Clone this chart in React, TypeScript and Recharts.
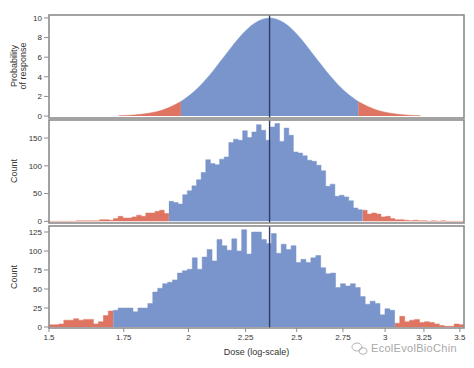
import React from "react";
import { ComposedChart, Area, XAxis, YAxis, ReferenceLine } from "recharts";

const BLUE = "#7a95cb";
const RED = "#df7462";
const LINE = "#2f3d68";
const FRAME = "#8c8c8c";
const TEXT = "#333333";
const FONT = "'Liberation Sans', Arial, sans-serif";

// x axis (dose, log scale)
const DOSE_DOMAIN: [number, number] = [1.5, 3.53];
const DOSE_TICKS = [1.5, 1.75, 2, 2.25, 2.5, 2.75, 3, 3.25, 3.5];
const MEAN_DOSE = 2.364;

// top panel: probability of response curve
const CURVE_DOSE = [
  1.731, 1.786, 1.843, 1.901, 1.969, 2.023, 2.087, 2.153, 2.221, 2.292, 2.364,
  2.439, 2.516, 2.595, 2.678, 2.762, 2.838, 2.94, 3.033, 3.129, 3.228,
];
const CURVE_PROB = [
  0.04, 0.11, 0.29, 0.66, 1.48, 2.49, 4.11, 6.07, 8.01, 9.46, 10.0,
  9.46, 8.01, 6.07, 4.11, 2.49, 1.48, 0.66, 0.29, 0.11, 0.04,
];
const CURVE_CUT = [1.969, 2.838];
const PROB_TICKS = [0, 2, 4, 6, 8, 10];

// middle panel: histogram counts (equal log-width bins over the dose axis)
const MID_COUNTS = [
  0, 0, 0, 0, 0, 0, 1, 1, 1, 1, 1, 3, 3, 2, 5, 9, 6, 6, 8, 11,
  9, 15, 15, 18, 20, 14, 36, 34, 31, 48, 55, 64, 75, 88, 111, 104, 102, 112, 116, 142,
  148, 146, 163, 151, 161, 174, 164, 146, 170, 176, 144, 168, 155, 125, 123, 118, 110, 108, 101, 91,
  63, 67, 45, 47, 44, 37, 24, 21, 20, 13, 15, 13, 8, 9, 5, 3, 3, 2, 1, 2,
  1, 1, 0, 1, 0, 1, 0, 0, 0, 0,
];
const MID_TAIL = [26, 68];
const MID_TICKS = [0, 50, 100, 150];

// bottom panel: histogram counts
const BOT_COUNTS = [
  3, 3, 4, 9, 9, 11, 9, 10, 10, 4, 7, 15, 21, 22, 25, 25, 25, 20, 25, 25,
  31, 46, 51, 57, 59, 62, 71, 74, 76, 91, 76, 92, 102, 87, 115, 107, 101, 116, 100, 128,
  96, 125, 125, 115, 110, 123, 97, 109, 102, 107, 85, 89, 85, 91, 94, 78, 70, 71, 52, 57,
  54, 57, 52, 40, 30, 34, 31, 16, 24, 22, 5, 14, 7, 9, 10, 6, 7, 6, 4, 2,
  1, 1, 4, 3,
];
const BOT_TAIL = [13, 70];
const BOT_TICKS = [0, 25, 50, 75, 100, 125];

const tickStyle = { fontSize: 8, fill: TEXT, fontFamily: FONT };

// step rows: one row per bin edge, red/blue split so each colour closes its own bins
function histRows(counts: number[], tail: number[]) {
  const n = counts.length;
  const ratio = DOSE_DOMAIN[1] / DOSE_DOMAIN[0];
  const isRed = (i: number) => i < tail[0] || i >= tail[1];
  const rows: { dose: number; red: number | null; blue: number | null }[] = [];
  for (let i = 0; i <= n; i++) {
    let red: number | null = null;
    let blue: number | null = null;
    if (i < n) {
      if (isRed(i)) red = counts[i];
      else blue = counts[i];
    }
    if (i > 0) {
      if (isRed(i - 1) && red === null) red = counts[i - 1];
      if (!isRed(i - 1) && blue === null) blue = counts[i - 1];
    }
    rows.push({ dose: DOSE_DOMAIN[0] * Math.pow(ratio, i / n), red, blue });
  }
  return rows;
}

function DensityPanel() {
  const rows = CURVE_DOSE.map((d, i) => ({
    dose: d,
    core: d >= CURVE_CUT[0] && d <= CURVE_CUT[1] ? CURVE_PROB[i] : null,
    tail: d <= CURVE_CUT[0] || d >= CURVE_CUT[1] ? CURVE_PROB[i] : null,
  }));
  return (
    <ComposedChart
      width={474}
      height={124}
      data={rows}
      margin={{ top: 15, right: 10, bottom: 6, left: 0 }}
    >
      <XAxis
        dataKey="dose"
        type="number"
        scale="log"
        domain={DOSE_DOMAIN}
        allowDataOverflow
        hide
      />
      <YAxis
        width={49}
        type="number"
        domain={[-0.2, 10.3]}
        ticks={PROB_TICKS}
        interval={0}
        allowDataOverflow
        axisLine={false}
        tickLine={{ stroke: FRAME }}
        tickSize={5}
        tickMargin={2}
        tick={tickStyle}
      />
      <Area
        dataKey="tail"
        type="monotone"
        fill={RED}
        fillOpacity={1}
        stroke={RED}
        strokeWidth={0.5}
        isAnimationActive={false}
      />
      <Area
        dataKey="core"
        type="monotone"
        fill={BLUE}
        fillOpacity={1}
        stroke={BLUE}
        strokeWidth={0.5}
        isAnimationActive={false}
      />
      <ReferenceLine x={MEAN_DOSE} stroke={LINE} strokeWidth={1.4} />
    </ComposedChart>
  );
}

interface HistProps {
  counts: number[];
  tail: number[];
  yDomain: [number, number];
  yTicks: number[];
  height: number;
  bottom: number;
  showX: boolean;
}

function HistPanel({ counts, tail, yDomain, yTicks, height, bottom, showX }: HistProps) {
  const rows = histRows(counts, tail);
  return (
    <ComposedChart
      width={474}
      height={height}
      data={rows}
      margin={{ top: 2, right: 10, bottom, left: 0 }}
    >
      <XAxis
        dataKey="dose"
        type="number"
        scale="log"
        domain={DOSE_DOMAIN}
        allowDataOverflow
        ticks={DOSE_TICKS}
        interval={0}
        hide={!showX}
        height={40}
        axisLine={false}
        tickLine={{ stroke: FRAME }}
        tickSize={4}
        tickMargin={2}
        tick={tickStyle}
        label={{
          value: "Dose (log-scale)",
          position: "insideBottom",
          offset: 13,
          fontSize: 9,
          fill: TEXT,
          fontFamily: FONT,
        }}
      />
      <YAxis
        width={49}
        type="number"
        domain={yDomain}
        ticks={yTicks}
        interval={0}
        allowDataOverflow
        axisLine={false}
        tickLine={{ stroke: FRAME }}
        tickSize={5}
        tickMargin={2}
        tick={tickStyle}
      />
      <Area
        dataKey="red"
        type="stepAfter"
        fill={RED}
        fillOpacity={1}
        stroke={RED}
        strokeWidth={0.5}
        baseValue={0}
        isAnimationActive={false}
      />
      <Area
        dataKey="blue"
        type="stepAfter"
        fill={BLUE}
        fillOpacity={1}
        stroke={BLUE}
        strokeWidth={0.5}
        baseValue={0}
        isAnimationActive={false}
      />
      <ReferenceLine x={MEAN_DOSE} stroke={LINE} strokeWidth={1.4} />
    </ComposedChart>
  );
}

export default function App() {
  const abs = (top: number): React.CSSProperties => ({ position: "absolute", left: 0, top });
  return (
    <div
      style={{
        position: "absolute",
        left: 0,
        top: 0,
        width: 474,
        height: 368,
        background: "#fff",
        fontFamily: FONT,
      }}
    >
      <div style={abs(0)}>
        <DensityPanel />
      </div>
      <div style={abs(118)}>
        <HistPanel
          counts={MID_COUNTS}
          tail={MID_TAIL}
          yDomain={[-3, 182.5]}
          yTicks={MID_TICKS}
          height={111}
          bottom={6}
          showX={false}
        />
      </div>
      <div style={abs(224)}>
        <HistPanel
          counts={BOT_COUNTS}
          tail={BOT_TAIL}
          yDomain={[-1.3, 132.9]}
          yTicks={BOT_TICKS}
          height={144}
          bottom={0}
          showX={true}
        />
      </div>
      <svg
        width={474}
        height={368}
        style={{ position: "absolute", left: 0, top: 0, pointerEvents: "none" }}
      >
        <g fill="none" stroke={FRAME} strokeWidth={1.6}>
          <rect x={49} y={15} width={415} height={103} />
          <rect x={49} y={120} width={415} height={103} />
          <rect x={49} y={226} width={415} height={102} />
        </g>
        <g fontSize={9} fill={TEXT} fontFamily={FONT} textAnchor="middle">
          <text x={14} y={66} transform="rotate(-90 14 66)" dominantBaseline="central">
            Probability
          </text>
          <text x={23} y={66} transform="rotate(-90 23 66)" dominantBaseline="central">
            of response
          </text>
          <text x={14} y={171} transform="rotate(-90 14 171)" dominantBaseline="central">
            Count
          </text>
          <text x={14} y={277} transform="rotate(-90 14 277)" dominantBaseline="central">
            Count
          </text>
        </g>
        <g stroke="#b4b4b4" strokeWidth={1} fill="none">
          <ellipse cx={357} cy={347} rx={5} ry={4} />
          <ellipse cx={363} cy={351} rx={4} ry={3.3} />
        </g>
        <text
          x={371}
          y={352}
          fontSize={11}
          fill="#a8a8a8"
          fontFamily={FONT}
          letterSpacing={0.3}
        >
          EcolEvolBioChin
        </text>
      </svg>
    </div>
  );
}
